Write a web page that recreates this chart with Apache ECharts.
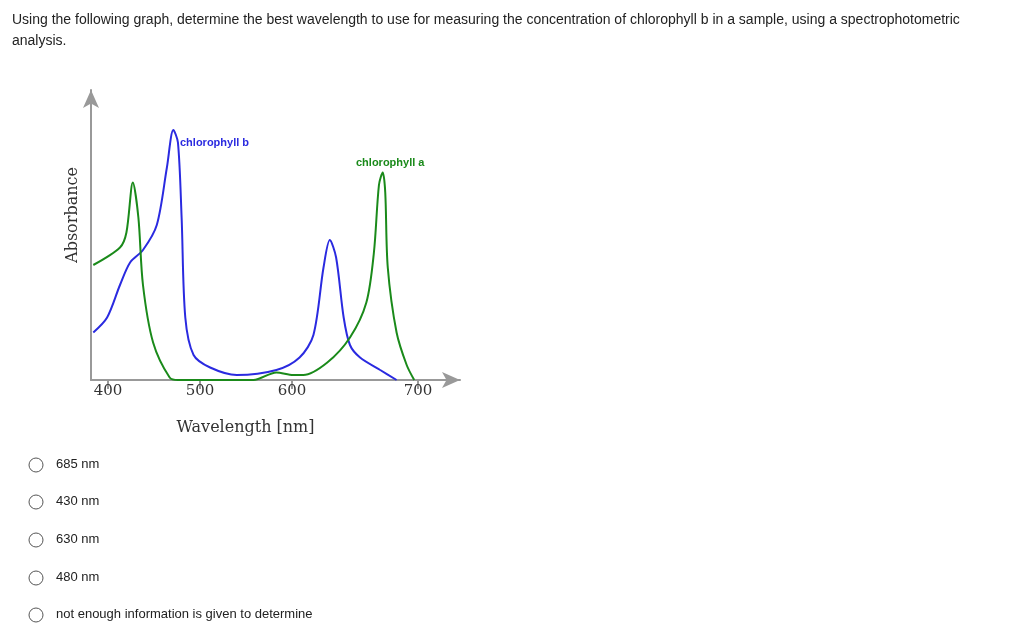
<!DOCTYPE html>
<html>
<head>
<meta charset="utf-8">
<title>Chlorophyll absorbance</title>
<script src="https://cdn.jsdelivr.net/npm/echarts@6/dist/echarts.min.js"></script>
<style>body{margin:0;background:#fff}</style>
</head>
<body>
<div id="main" style="width:1024px;height:639px;"></div>
<script>
// wavelengths in nm and absorbance
var chlBWave = [384, 399, 413, 424, 438, 453, 464, 471, 476, 480, 484, 493, 511, 540, 583, 606, 617, 625, 630, 635, 641, 646, 654, 670, 683];
var chlBAbs  = [0.19, 0.25, 0.38, 0.47, 0.52, 0.62, 0.85, 1.0, 0.95, 0.65, 0.25, 0.10, 0.05, 0.02, 0.04, 0.09, 0.18, 0.45, 0.56, 0.49, 0.25, 0.14, 0.09, 0.04, 0.0];
var chlAWave = [384, 413, 420, 427, 433, 438, 449, 467, 476, 558, 583, 601, 609, 628, 646, 659, 665, 669, 672, 674, 676, 683, 691, 697];
var chlAAbs  = [0.46, 0.53, 0.59, 0.79, 0.65, 0.38, 0.15, 0.01, 0.0, 0.0, 0.03, 0.02, 0.02, 0.07, 0.17, 0.31, 0.51, 0.78, 0.83, 0.75, 0.45, 0.19, 0.06, 0.0];
var tickLabels = [400, 500, 600, 700];

// the original axis is stretched above 600 nm
function u(nm) { return nm <= 600 ? nm : 600 + (nm - 600) * 126 / 92; }
function nm(v) { return v <= 600 ? v : 600 + (v - 600) * 92 / 126; }
function pairs(w, a) { return w.map(function (x, i) { return [u(x), a[i]]; }); }

var chart = echarts.init(document.getElementById('main'));
var serif = '"DejaVu Serif", "Liberation Serif", serif';
var sans = '"Liberation Sans", Arial, sans-serif';
var options = ['685 nm', '430 nm', '630 nm', '480 nm', 'not enough information is given to determine'];
var optY = [465, 502, 540, 578, 615];

var graphics = [
    { type: 'text', left: 12, top: 13, style: { text: 'Using the following graph, determine the best wavelength to use for measuring the concentration of chlorophyll b in a sample, using a spectrophotometric', font: '14px ' + sans, fill: '#222' } },
    { type: 'text', left: 12, top: 34, style: { text: 'analysis.', font: '14px ' + sans, fill: '#222' } },
    { type: 'text', left: 180, top: 137, style: { text: 'chlorophyll b', font: 'bold 11px ' + sans, fill: '#2a2ae0' } },
    { type: 'text', left: 356, top: 157, style: { text: 'chlorophyll a', font: 'bold 11px ' + sans, fill: '#1a8a1a' } }
];
options.forEach(function (t, i) {
    graphics.push({ type: 'circle', shape: { cx: 36, cy: optY[i], r: 7 }, style: { fill: '#fff', stroke: '#555', lineWidth: 1 } });
    graphics.push({ type: 'text', left: 56, top: optY[i] - 7, style: { text: t, font: '13px ' + sans, fill: '#222' } });
});

chart.setOption({
    animation: false,
    grid: { left: 91, top: 90, right: 564, bottom: 259 },
    graphic: graphics,
    xAxis: {
        type: 'value', min: 381.5, max: 782.6,
        name: 'Wavelength [nm]', nameLocation: 'middle', nameGap: 40,
        nameTextStyle: { fontFamily: serif, fontSize: 16, color: '#333', padding: [0, 0, 0, -60] },
        axisLine: { lineStyle: { color: '#999', width: 2 }, symbol: ['none', 'arrow'], symbolSize: [12, 18] },
        axisTick: { customValues: tickLabels.map(u), length: 9, inside: false, lineStyle: { color: '#999', width: 2 } },
        axisLabel: { customValues: tickLabels.map(u), formatter: function (v) { return Math.round(nm(v)); }, fontFamily: serif, fontSize: 15, color: '#333', margin: 4 },
        splitLine: { show: false }
    },
    yAxis: {
        type: 'value', min: 0, max: 1.16,
        name: 'Absorbance', nameLocation: 'middle', nameGap: 10,
        nameTextStyle: { fontFamily: serif, fontSize: 16, color: '#333', padding: [0, 0, 0, 40] },
        axisLine: { show: true, lineStyle: { color: '#999', width: 2 }, symbol: ['none', 'arrow'], symbolSize: [12, 18] },
        axisTick: { show: false }, axisLabel: { show: false }, splitLine: { show: false }
    },
    series: [
        { type: 'line', data: pairs(chlBWave, chlBAbs), smooth: 0.3, showSymbol: false, lineStyle: { color: '#2a2ae0', width: 2 } },
        { type: 'line', data: pairs(chlAWave, chlAAbs), smooth: 0.3, showSymbol: false, lineStyle: { color: '#1a8a1a', width: 2 } }
    ]
});
</script>
</body>
</html>
